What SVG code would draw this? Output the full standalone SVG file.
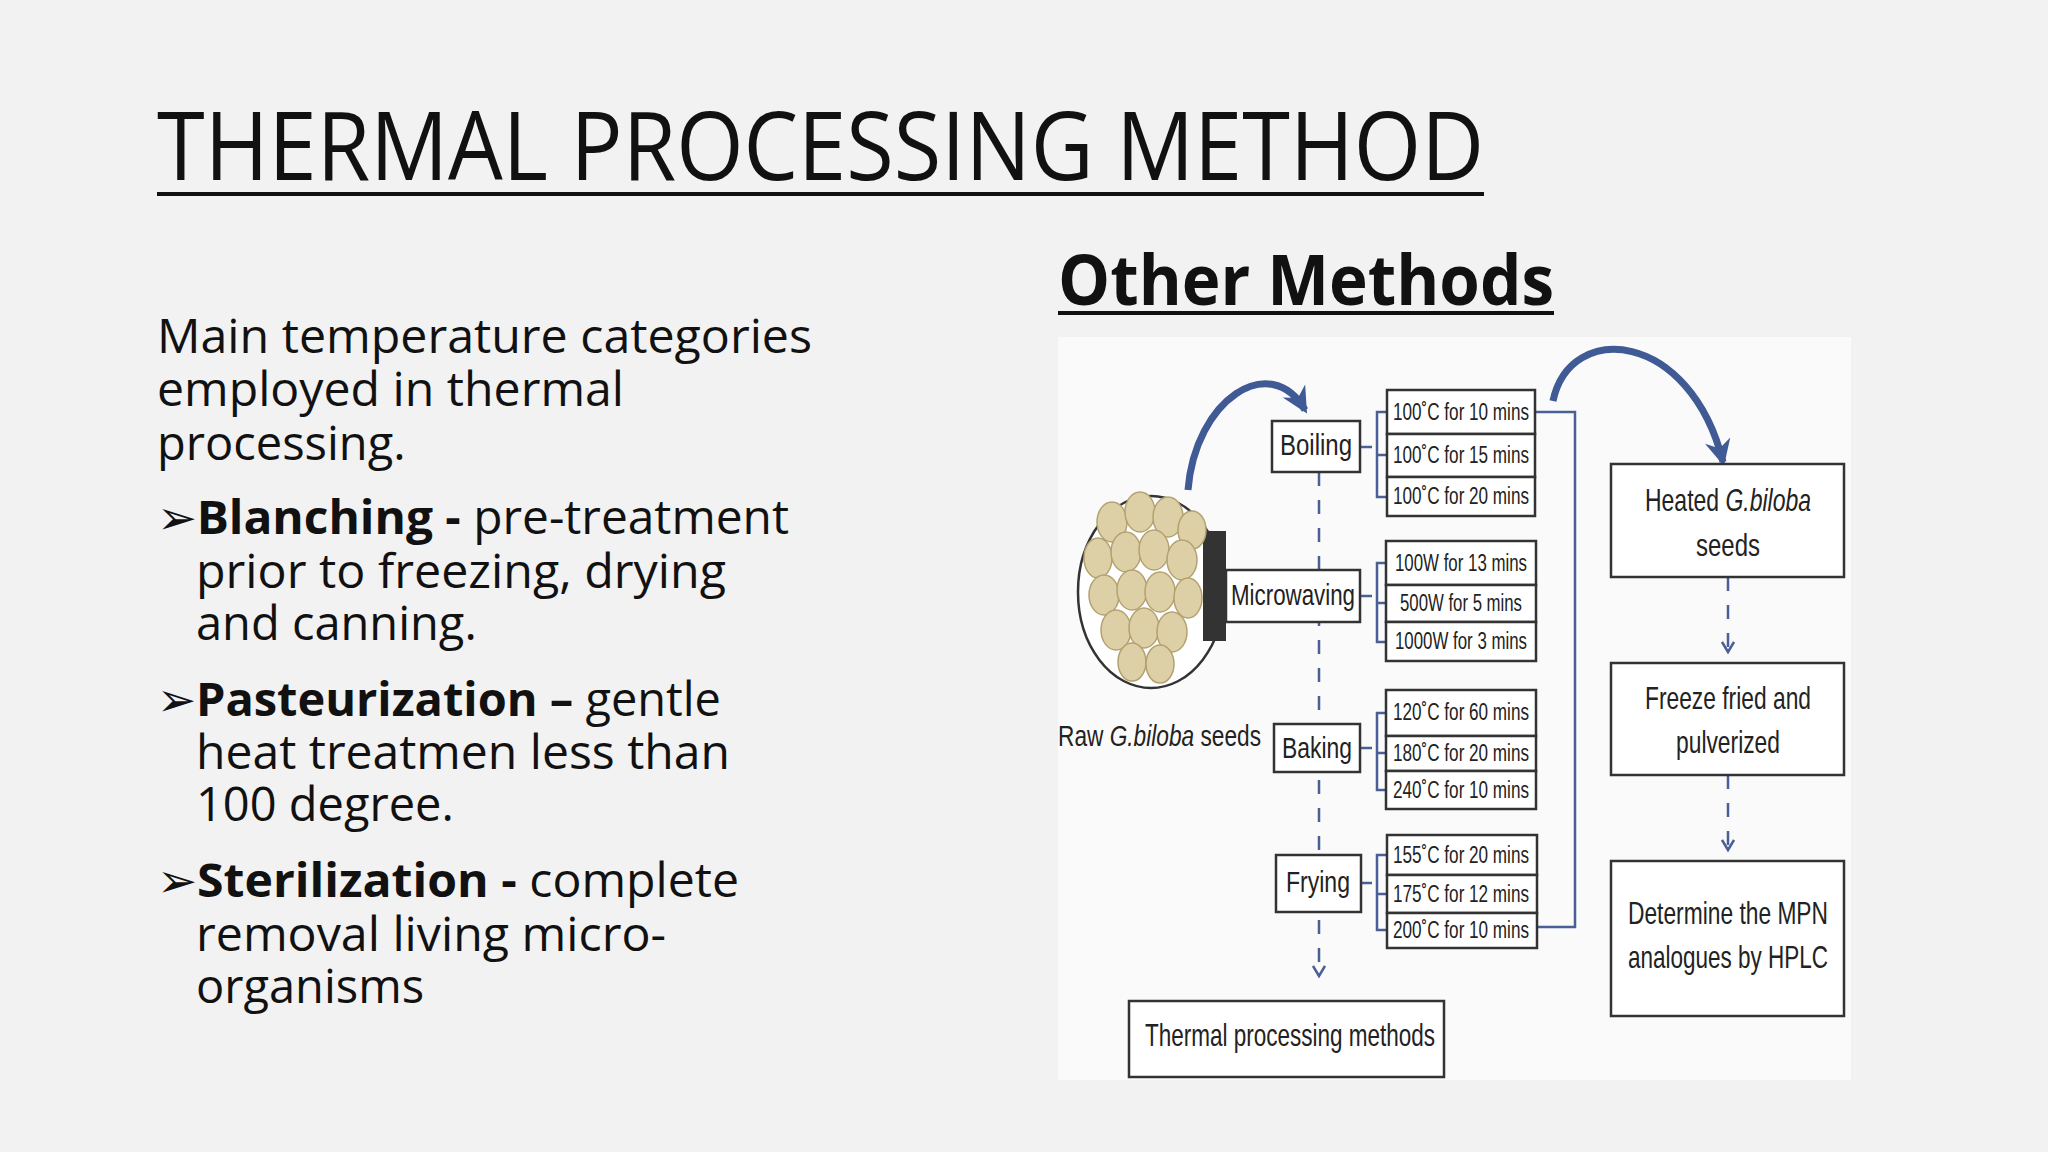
<svg xmlns="http://www.w3.org/2000/svg" width="2048" height="1152" viewBox="0 0 2048 1152">
<style>
.t{font-family:"Open Sans","Liberation Sans",sans-serif;fill:#111}
.d{font-family:"Liberation Sans",sans-serif;fill:#222}
.b{fill:#fff;stroke:#333;stroke-width:2.5}
.c{fill:none;stroke:#4a5f96;stroke-width:2.5}
.dash{fill:none;stroke:#4a5f96;stroke-width:2.5;stroke-dasharray:14 14}
.arc{fill:none;stroke:#3f5a94;stroke-width:7}
</style>
<defs>
<marker id="v" markerWidth="14" markerHeight="14" refX="11" refY="7" orient="auto" markerUnits="userSpaceOnUse"><path d="M1,1 L11,7 L1,13" fill="none" stroke="#4a5f96" stroke-width="2.5"/></marker>
<marker id="big" markerWidth="30" markerHeight="30" refX="24" refY="15" orient="auto" markerUnits="userSpaceOnUse"><path d="M2,2 L28,15 L2,28 L10,15 Z" fill="#3f5a94"/></marker>
</defs>
<rect width="2048" height="1152" fill="#f2f2f2"/>
<g id="title">
<text class="t" x="157" y="180" font-size="96" textLength="1327" lengthAdjust="spacingAndGlyphs">THERMAL PROCESSING METHOD</text>
<rect x="157" y="192" width="1327" height="4" fill="#111"/>
</g>
<g id="other">
<text class="t" x="1058" y="305" font-size="70" font-weight="bold" textLength="496" lengthAdjust="spacingAndGlyphs">Other Methods</text>
<rect x="1058" y="311" width="496" height="4" fill="#111"/>
</g>
<g id="body" class="t" font-size="47">
<text x="157" y="353" textLength="655" lengthAdjust="spacingAndGlyphs">Main temperature categories</text>
<text x="157" y="406" textLength="467" lengthAdjust="spacingAndGlyphs">employed in thermal</text>
<text x="157" y="460">processing.</text>
<text x="157" y="534" textLength="632" lengthAdjust="spacingAndGlyphs">➢<tspan font-weight="bold">Blanching -</tspan> pre-treatment</text>
<text x="196" y="588" textLength="530" lengthAdjust="spacingAndGlyphs">prior to freezing, drying</text>
<text x="196" y="640">and canning.</text>
<text x="157" y="716" textLength="564" lengthAdjust="spacingAndGlyphs">➢<tspan font-weight="bold">Pasteurization –</tspan> gentle</text>
<text x="196" y="769" textLength="534" lengthAdjust="spacingAndGlyphs">heat treatmen less than</text>
<text x="196" y="821">100 degree.</text>
<text x="157" y="897" textLength="582" lengthAdjust="spacingAndGlyphs">➢<tspan font-weight="bold">Sterilization -</tspan>  complete</text>
<text x="196" y="951" textLength="470" lengthAdjust="spacingAndGlyphs">removal living micro-</text>
<text x="196" y="1003">organisms</text>
</g>
<rect x="1058" y="337" width="793" height="743" fill="#fafafa"/>
<g id="seeds">
<ellipse cx="1151" cy="592" rx="73" ry="96" fill="#fff" stroke="#333" stroke-width="2.5"/>
<rect x="1203" y="531" width="23" height="110" fill="#333"/>
<g fill="#ddd0a6" stroke="#b3a170" stroke-width="1.5">
<ellipse cx="1112" cy="522" rx="15" ry="20"/><ellipse cx="1140" cy="512" rx="15" ry="20"/><ellipse cx="1168" cy="517" rx="15" ry="20"/><ellipse cx="1192" cy="530" rx="14" ry="19"/>
<ellipse cx="1098" cy="558" rx="14" ry="20"/><ellipse cx="1126" cy="552" rx="15" ry="20"/><ellipse cx="1154" cy="550" rx="15" ry="20"/><ellipse cx="1182" cy="560" rx="15" ry="20"/>
<ellipse cx="1104" cy="595" rx="15" ry="20"/><ellipse cx="1132" cy="590" rx="15" ry="20"/><ellipse cx="1160" cy="592" rx="15" ry="20"/><ellipse cx="1188" cy="598" rx="14" ry="20"/>
<ellipse cx="1116" cy="630" rx="15" ry="20"/><ellipse cx="1144" cy="628" rx="15" ry="20"/><ellipse cx="1172" cy="632" rx="15" ry="20"/>
<ellipse cx="1132" cy="662" rx="14" ry="19"/><ellipse cx="1160" cy="664" rx="14" ry="19"/>
</g>
<text class="d" x="1058" y="746" font-size="30" textLength="203" lengthAdjust="spacingAndGlyphs">Raw <tspan font-style="italic">G.biloba</tspan> seeds</text>
</g>
<g id="connectors">
<path class="arc" d="M1188,490 C1195,400 1270,350 1305,410" marker-end="url(#big)"/>
<path class="arc" d="M1553,401 C1570,320 1690,330 1723,462" marker-end="url(#big)"/>
<path class="dash" d="M1319,472 V976" marker-end="url(#v)"/>
<path class="c" d="M1535,412 H1575 V927 H1535"/>
<path class="dash" d="M1728,577 V652" marker-end="url(#v)"/>
<path class="dash" d="M1728,775 V850" marker-end="url(#v)"/>
<g class="c">
<path d="M1360,447 H1372 M1387,412 H1377 V497 H1387 M1377,455 H1387"/>
<path d="M1360,596 H1372 M1387,563 H1377 V642 H1387 M1377,603 H1387"/>
<path d="M1360,748 H1372 M1387,713 H1377 V790 H1387 M1377,753 H1387"/>
<path d="M1361,883 H1372 M1387,855 H1377 V930 H1387 M1377,894 H1387"/>
</g>
</g>
<g id="boiling"><rect class="b" x="1272" y="421" width="88" height="51"/><text class="d" x="1316" y="455" font-size="30" text-anchor="middle" textLength="72" lengthAdjust="spacingAndGlyphs">Boiling</text></g>
<g id="microwaving"><rect class="b" x="1226" y="570" width="134" height="52"/><text class="d" x="1293" y="605" font-size="30" text-anchor="middle" textLength="124" lengthAdjust="spacingAndGlyphs">Microwaving</text></g>
<g id="baking"><rect class="b" x="1274" y="724" width="86" height="48"/><text class="d" x="1317" y="758" font-size="30" text-anchor="middle" textLength="70" lengthAdjust="spacingAndGlyphs">Baking</text></g>
<g id="frying"><rect class="b" x="1276" y="855" width="85" height="57"/><text class="d" x="1318" y="892" font-size="30" text-anchor="middle" textLength="64" lengthAdjust="spacingAndGlyphs">Frying</text></g>
<g id="opts" font-size="23">
<g id="boil-opts"><rect class="b" x="1387" y="390" width="148" height="44"/><rect class="b" x="1387" y="434" width="148" height="43"/><rect class="b" x="1387" y="477" width="148" height="39"/>
<text class="d" x="1461" y="420" text-anchor="middle" textLength="136" lengthAdjust="spacingAndGlyphs">100˚C for 10 mins</text><text class="d" x="1461" y="463" text-anchor="middle" textLength="136" lengthAdjust="spacingAndGlyphs">100˚C for 15 mins</text><text class="d" x="1461" y="504" text-anchor="middle" textLength="136" lengthAdjust="spacingAndGlyphs">100˚C for 20 mins</text></g>
<g id="micro-opts"><rect class="b" x="1386" y="541" width="150" height="44"/><rect class="b" x="1386" y="585" width="150" height="37"/><rect class="b" x="1386" y="622" width="150" height="39"/>
<text class="d" x="1461" y="571" text-anchor="middle" textLength="132" lengthAdjust="spacingAndGlyphs">100W for 13 mins</text><text class="d" x="1461" y="611" text-anchor="middle" textLength="122" lengthAdjust="spacingAndGlyphs">500W for 5 mins</text><text class="d" x="1461" y="649" text-anchor="middle" textLength="132" lengthAdjust="spacingAndGlyphs">1000W for 3 mins</text></g>
<g id="bake-opts"><rect class="b" x="1386" y="690" width="150" height="46"/><rect class="b" x="1386" y="736" width="150" height="35"/><rect class="b" x="1386" y="771" width="150" height="38"/>
<text class="d" x="1461" y="720" text-anchor="middle" textLength="136" lengthAdjust="spacingAndGlyphs">120˚C for 60 mins</text><text class="d" x="1461" y="761" text-anchor="middle" textLength="136" lengthAdjust="spacingAndGlyphs">180˚C for 20 mins</text><text class="d" x="1461" y="798" text-anchor="middle" textLength="136" lengthAdjust="spacingAndGlyphs">240˚C for 10 mins</text></g>
<g id="fry-opts"><rect class="b" x="1387" y="835" width="150" height="40"/><rect class="b" x="1387" y="875" width="150" height="38"/><rect class="b" x="1387" y="913" width="150" height="35"/>
<text class="d" x="1461" y="863" text-anchor="middle" textLength="136" lengthAdjust="spacingAndGlyphs">155˚C for 20 mins</text><text class="d" x="1461" y="902" text-anchor="middle" textLength="136" lengthAdjust="spacingAndGlyphs">175˚C for 12 mins</text><text class="d" x="1461" y="938" text-anchor="middle" textLength="136" lengthAdjust="spacingAndGlyphs">200˚C for 10 mins</text></g>
</g>
<g id="thermal"><rect class="b" x="1129" y="1001" width="315" height="76"/><text class="d" x="1290" y="1046" font-size="32" text-anchor="middle" textLength="290" lengthAdjust="spacingAndGlyphs">Thermal processing methods</text></g>
<g id="heated"><rect class="b" x="1611" y="464" width="233" height="113"/><text class="d" x="1728" y="511" font-size="32" text-anchor="middle" textLength="166" lengthAdjust="spacingAndGlyphs">Heated <tspan font-style="italic">G.biloba</tspan></text><text class="d" x="1728" y="556" font-size="32" text-anchor="middle" textLength="64" lengthAdjust="spacingAndGlyphs">seeds</text></g>
<g id="freeze"><rect class="b" x="1611" y="663" width="233" height="112"/><text class="d" x="1728" y="709" font-size="32" text-anchor="middle" textLength="166" lengthAdjust="spacingAndGlyphs">Freeze fried and</text><text class="d" x="1728" y="753" font-size="32" text-anchor="middle" textLength="104" lengthAdjust="spacingAndGlyphs">pulverized</text></g>
<g id="mpn"><rect class="b" x="1611" y="861" width="233" height="155"/><text class="d" x="1728" y="924" font-size="32" text-anchor="middle" textLength="200" lengthAdjust="spacingAndGlyphs">Determine the MPN</text><text class="d" x="1728" y="968" font-size="32" text-anchor="middle" textLength="200" lengthAdjust="spacingAndGlyphs">analogues by HPLC</text></g>
</svg>
